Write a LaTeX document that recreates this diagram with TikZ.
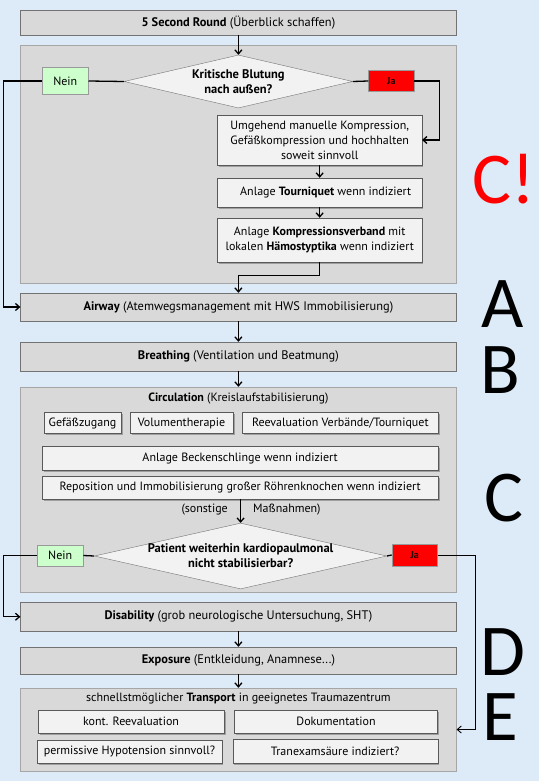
\documentclass[tikz,border=0pt]{standalone}
\usepackage{fontspec}
\setmainfont{PT Sans}
\newfontfamily\letterfont{Carlito}
\usetikzlibrary{shapes.geometric,shadows,arrows.meta,calc}

\definecolor{paperblue}{HTML}{DDEAF7}
\definecolor{bargray}{HTML}{D9D9D9}
\definecolor{boxwhite}{HTML}{F2F2F2}
\definecolor{neingreen}{HTML}{CCFFCC}
\definecolor{jared}{HTML}{FF0000}

\tikzset{
  every node/.style={font=\fontsize{12}{15}\selectfont, inner sep=1pt},
  phase bar/.style={draw=black!55, fill=bargray, minimum width=435.6pt,
      font=\fontsize{12.4}{15}\selectfont,
      drop shadow={shadow xshift=0.8pt, shadow yshift=-0.8pt, fill=black!45}},
  phase frame/.style={draw=black!35, fill=bargray, minimum width=436pt},
  step box/.style={draw=black!65, fill=boxwhite, align=center,
      drop shadow={shadow xshift=1.6pt, shadow yshift=-1.6pt, fill=black!60}},
  decision/.style={diamond, draw=black!55, fill=boxwhite, inner sep=0pt,
      align=center, font=\fontsize{12.5}{15}\selectfont\bfseries},
  answer no/.style={draw=black!40, fill=neingreen, minimum width=46pt},
  answer yes/.style={draw=black!40, fill=jared, minimum width=45.7pt,
      text=black!85!red, font=\fontsize{10}{12}\selectfont\bfseries},
  flow/.style={draw=black, line width=1.3pt, -{Straight Barb[length=4pt,width=7pt]}},
  flow plain/.style={draw=black, line width=1.3pt},
  side letter/.style={anchor=base, inner sep=0pt, text height=47pt, text depth=0pt,
      font=\fontsize{73}{73}\letterfont}
}

\begin{document}
\begin{tikzpicture}[x=1pt, y=-1pt]
\fill[paperblue] (0,0) rectangle (539,781);
\useasboundingbox (0,0) rectangle (539,781);

% frames of the three grouped phases
\node[phase frame, minimum height=237.7pt] (bleedframe) at (238.4,163.85) {};
\node[phase frame, minimum height=204.7pt] (circframe) at (238.4,489.35) {};
\node[phase frame, minimum height=83pt] (transframe) at (238.4,729.5) {};

% rails for the long connectors
\coordinate (leftrail) at (3.4,0);
\coordinate (bleedrail) at (439.3,0);
\coordinate (rightrail) at (475.4,0);

\node[phase bar, minimum height=25pt] (round) at (238.4,22.5)
  {\textbf{5 Second Round} (Überblick schaffen)};

% critical bleeding
\node[decision, minimum width=228.6pt, minimum height=53pt, aspect=4.3]
  (bleeding) at (238.4,81.5) {Kritische Blutung\\nach außen?};
\node[answer no, minimum height=27pt] (neinone) at (65.3,81) {Nein};
\node[answer yes, minimum height=21pt] (jaone) at (391.35,81) {Ja};
\node[step box, minimum width=204.2pt, minimum height=50pt] (umgehend) at (319.7,140)
  {Umgehend manuelle Kompression,\\Gefäßkompression und hochhalten\\soweit sinnvoll};
\node[step box, minimum width=204.2pt, minimum height=29pt] (tourniquet) at (319.7,192.5)
  {\hspace*{12pt}Anlage \textbf{Tourniquet} wenn indiziert};
\node[step box, minimum width=204.2pt, minimum height=44pt] (kompression) at (319.7,240)
  {Anlage \textbf{Kompressionsverband} mit\\lokalen \textbf{Hämostyptika} wenn indiziert};

\node[phase bar, minimum height=28pt] (airway) at (238.4,307)
  {\textbf{Airway} (Atemwegsmanagement mit HWS Immobilisierung)};
\node[phase bar, minimum height=29pt] (breathing) at (238.4,356.5)
  {\textbf{Breathing} (Ventilation und Beatmung)};

% circulation
\node (circtitle) at (238.4,399) {\textbf{Circulation} (Kreislaufstabilisierung)};
\node[step box, minimum width=77pt, minimum height=21pt] (gefaess) at (82.5,423) {Gefäßzugang};
\node[step box, minimum width=103pt, minimum height=21pt] (volumen) at (181.5,423) {Volumentherapie};
\node[step box, minimum width=196pt, minimum height=21pt] (reeval) at (340.3,423)
  {Reevaluation Verbände/Tourniquet};
\node[step box, minimum width=396.4pt, minimum height=23.5pt] (becken) at (240.1,458.25)
  {Anlage Beckenschlinge wenn indiziert};
\node[step box, minimum width=396.4pt, minimum height=23pt] (reposition) at (240.1,487.5)
  {Reposition und Immobilisierung großer Röhrenknochen wenn indiziert};
\node[anchor=east] (sonstige) at (229,510) {(sonstige};
\node[anchor=west] (massnahmen) at (252,510) {Maßnahmen)};
\node[decision, minimum width=275pt, minimum height=62pt, aspect=4.44]
  (stable) at (240.6,556) {Patient weiterhin kardiopaulmonal\\nicht stabilisierbar?};
\node[answer no, minimum height=21.5pt] (neintwo) at (60.2,555.5) {Nein};
\node[answer yes, minimum height=22pt] (jatwo) at (414.7,555) {Ja};

\node[phase bar, minimum height=28.5pt] (disability) at (238.4,616.75)
  {\textbf{Disability} (grob neurologische Untersuchung, SHT)};
\node[phase bar, minimum height=27pt] (exposure) at (238.4,660.5)
  {\textbf{Exposure} (Entkleidung, Anamnese...)};

% transport
\node (transtitle) at (238.4,699) {schnellstmöglicher \textbf{Transport} in geeignetes Traumazentrum};
\node[step box, minimum width=186pt, minimum height=23pt] (kont) at (131,721.5) {kont. Reevaluation};
\node[step box, minimum width=203pt, minimum height=23pt] (doku) at (336,721.5) {Dokumentation};
\node[step box, minimum width=184.6pt, minimum height=23pt] (permissive) at (129.4,751.5)
  {permissive Hypotension sinnvoll?};
\node[step box, minimum width=205pt, minimum height=24pt] (tranex) at (335.2,751)
  {Tranexamsäure indiziert?};

% connectors
\draw[flow] (round.south) -- (bleeding.north);
\draw[flow plain] (bleeding.west) -- (neinone.east);
\draw[flow] (neinone.west) -- (neinone.west -| leftrail) |- (airway.west);
\draw[flow plain] (bleeding.east) -- (jaone.west);
\draw[flow] (jaone.east) -- (jaone.east -| bleedrail) |- (umgehend.east);
\draw[flow] (umgehend) -- (tourniquet);
\draw[flow] (tourniquet) -- (kompression);
\draw[flow] (kompression.south) -- ++(0,13) -| (airway.north);
\draw[flow] (airway) -- (breathing);
\draw[flow] (breathing.south) -- (circframe.north);
\draw[flow] (reposition.south -| stable.north) -- (stable.north);
\draw[flow plain] (stable.west) -- (neintwo.east);
\draw[flow] (neintwo.west) -- (neintwo.west -| leftrail) |- (disability.west);
\draw[flow plain] (stable.east) -- (jatwo.west);
\draw[flow, line width=0.9pt] (jatwo.east) -- (jatwo.east -| rightrail) |- (transframe.east);
\draw[flow] (disability) -- (exposure);
\draw[flow] (exposure.south) -- (transframe.north);

% phase letters
\node[side letter, text=jared] (letterbleed) at (503.5,203) {C!};
\node[side letter] (lettera) at (503,327) {A};
\node[side letter] (letterb) at (500.5,393) {B};
\node[side letter] (letterc) at (503.5,521) {C};
\node[side letter] (letterd) at (503,675) {D};
\node[side letter] (lettere) at (500,740) {E};
\end{tikzpicture}
\end{document}
